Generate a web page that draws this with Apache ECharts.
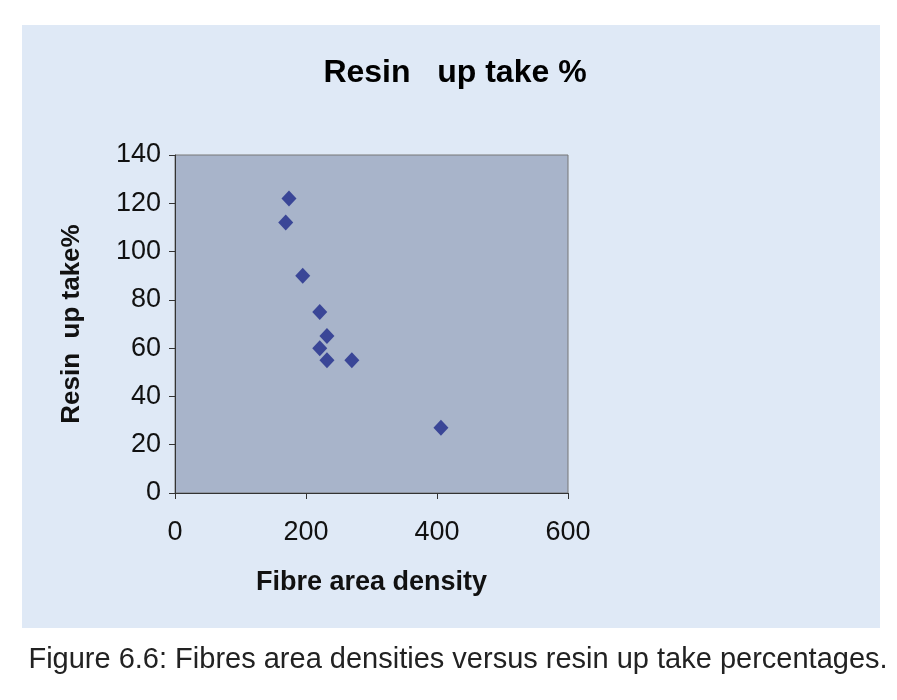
<!DOCTYPE html>
<html><head><meta charset="utf-8">
<script src="https://cdn.jsdelivr.net/npm/echarts@6/dist/echarts.min.js"></script>
<style>html,body{margin:0;padding:0;background:#fff}#c{width:897px;height:700px}</style>
</head><body><div id="c"></div>
<script>
const density = [174, 169, 195, 221, 232, 221, 232, 270, 406];
const uptake = [122, 112, 90, 75, 65, 60, 55, 55, 27];
const xTicks = [0, 200, 400, 600];
const yTicks = [0, 20, 40, 60, 80, 100, 120, 140];
const chart = echarts.init(document.getElementById('c'));
chart.setOption({
  backgroundColor: '#fff',
  graphic: [{type:'rect', z:-10, shape:{x:22,y:25,width:858,height:603}, style:{fill:'#dfe9f6'}}],
  title: [
    {text:'Resin   up take %', left:450, top:52, textAlign:'center',
     textStyle:{fontFamily:'Liberation Sans, Arial', fontWeight:'bold', fontSize:32, color:'#000'}},
    {text:'Figure 6.6: Fibres area densities versus resin up take percentages.', left:453, top:640, textAlign:'center',
     textStyle:{fontFamily:'Liberation Sans, Arial', fontWeight:'normal', fontSize:29, color:'#222'}}
  ],
  grid: {left:175, top:155, width:393, height:338, show:true, backgroundColor:'#a8b4ca', borderColor:'#777', borderWidth:1},
  xAxis: {type:'value', min:0, max:600, interval:200,
    name:'Fibre area density', nameLocation:'middle', nameGap:76,
    nameTextStyle:{fontFamily:'Liberation Sans, Arial', fontWeight:'bold', fontSize:27, color:'#111'},
    axisLine:{show:true, onZero:false, lineStyle:{color:'#333'}},
    axisTick:{show:true, length:6, lineStyle:{color:'#333'}},
    axisLabel:{fontFamily:'Liberation Sans, Arial', fontSize:27, color:'#111', margin:26,
      formatter:v=>xTicks.includes(v)?String(v):''},
    splitLine:{show:false}},
  yAxis: {type:'value', min:0, max:140, interval:20,
    name:'Resin  up take%', nameLocation:'middle', nameGap:90,
    nameTextStyle:{fontFamily:'Liberation Sans, Arial', fontWeight:'bold', fontSize:26, color:'#111'},
    axisLine:{show:true, lineStyle:{color:'#333'}},
    axisTick:{show:true, length:6, lineStyle:{color:'#333'}},
    axisLabel:{fontFamily:'Liberation Sans, Arial', fontSize:27, color:'#111', margin:14,
      formatter:v=>yTicks.includes(v)?String(v):''},
    splitLine:{show:false}},
  series: [{type:'scatter', symbol:'diamond', symbolSize:[15,16],
    itemStyle:{color:'#1e2a8a'}, data: density.map((d,i)=>[d, uptake[i]])}]
});
</script></body></html>
